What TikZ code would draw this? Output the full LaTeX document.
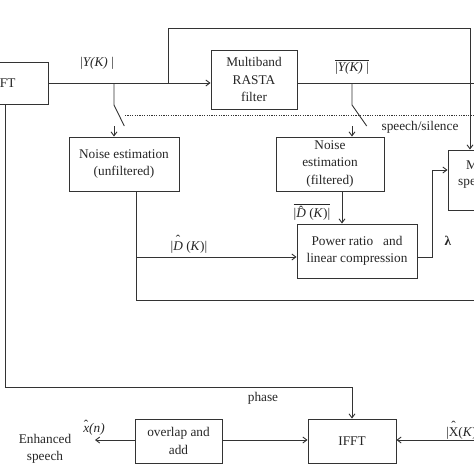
\documentclass[tikz,border=0pt]{standalone}
\usepackage{fontspec}
\setmainfont{Liberation Serif}
\usetikzlibrary{arrows.meta}
\newcommand\hatover[3][5pt]{\leavevmode\rlap{\hspace{#2}\raisebox{#1}{ˆ}}#3}
\begin{document}
\begin{tikzpicture}[x=1pt,y=-1pt,
  every node/.style={font=\fontsize{13.3}{17.5}\selectfont, text=black!85},
  blk/.style={draw=black!80, line width=0.9pt, align=center, inner sep=0pt, fill=white},
  ln/.style={draw=black!80, line width=0.9pt},
  arr/.style={ln, -{Straight Barb[length=4pt,width=6pt]}},
  lbl/.style={inner sep=0pt}]
\useasboundingbox (0,0) rectangle (474,474);
\clip (0,0) rectangle (474,474);
% blocks
\node[blk, minimum width=88pt, minimum height=42pt] (fft) at (4,83) {FFT};
\node[blk, minimum width=86pt, minimum height=59pt] (mb) at (254,79.5) {Multiband\\RASTA\\filter};
\node[blk, minimum width=110pt, minimum height=54pt] (nu) at (124,164) {Noise estimation\\(unfiltered)};
\node[blk, minimum width=108pt, minimum height=54pt] (nf) at (330,164) {Noise\\estimation\\(filtered)};
\node[blk, minimum width=120pt, minimum height=54pt] (pr) at (357,251) {Power ratio \ \ and\\linear compression};
\node[blk, minimum width=82pt, minimum height=60pt] (rb) at (489,180) {};
\node[lbl, anchor=base west] (rbt1) at (466,169) {M};
\node[lbl, anchor=base west] (rbt2) at (458,185) {spe};
\node[blk, minimum width=87pt, minimum height=44pt] (ola) at (178.5,441) {overlap and\\add};
\node[blk, minimum width=88pt, minimum height=44pt] (ifft) at (352,441) {IFFT};
% coordinates
\coordinate (j1) at (168,83);
\coordinate (topR) at (470,28);
\coordinate (e1) at (474,83);
\coordinate (s1) at (114,83);
\coordinate (s1b) at (114,105);
\coordinate (s1c) at (124.3,126);
\coordinate (s1d) at (114,126);
\coordinate (s2) at (352,83);
\coordinate (s2b) at (352,105);
\coordinate (s2c) at (366.7,126);
\coordinate (s2d) at (352,126);
\coordinate (d1) at (125,115.7);
\coordinate (d2) at (474,115.7);
\coordinate (nuo) at (136,191);
\coordinate (nub) at (136,300);
\coordinate (e2) at (474,300);
\coordinate (nubr) at (136,257);
\coordinate (nfo) at (342,191);
\coordinate (prx) at (432,257);
\coordinate (ph0) at (5,104);
\coordinate (ph1) at (5,387);
\coordinate (ph2) at (352,387);
\coordinate (outx) at (95,440);
\coordinate (e3) at (474,440);
% connectors
\draw[arr] (fft.east |- j1) -- (mb.west |- j1);
\draw[arr] (j1) |- (topR) -- (topR |- rb.north);
\draw[ln] (mb.east |- e1) -- (e1);
\draw[ln] (s1) -- (s1b) -- (s1c);
\draw[arr] (s1d) -- (s1d |- nu.north);
\draw[ln] (s2) -- (s2b) -- (s2c);
\draw[arr] (s2d) -- (s2d |- nf.north);
\draw[ln, dash pattern=on 1.2pt off 1.2pt, line width=0.8pt] (d1) -- (d2);
\draw[ln] (nuo) -- (nub) -- (e2);
\draw[arr] (nubr) -- (nubr -| pr.west);
\draw[arr] (nfo) -- (nfo |- pr.north);
\draw[arr] (pr.east |- prx) -- (prx) |- (rb.west |- 0,170);
\draw[arr] (ph0) -- (ph1) -- (ph2) -- (ph2 |- ifft.north);
\draw[arr] (ola.east |- e3) -- (ifft.west |- e3);
\draw[arr] (ola.west |- outx) -- (outx);
\draw[arr] (e3) -- (ifft.east |- e3);
% labels
\node[lbl] (ly) at (97,63) {|\textit{Y(K)} |};
\node[lbl] (lyb) at (352,67) {$\overline{\hbox{|\textit{Y(K)} |}}$};
\node[lbl] (ss) at (420,127) {speech/silence};
\node[lbl] (ld) at (189,244) {|\hatover[6pt]{2.5pt}{\textit{D}} (\textit{K})|};
\node[lbl] (ldb) at (312,212) {$\overline{\hbox{|\hatover[2pt]{2.5pt}{\textit{D}} (\textit{K})|}}$};
\node[lbl] (lam) at (448,241) {\textbf{λ}};
\node[lbl] (ph) at (263,398) {phase};
\node[lbl] (xn) at (94,428) {\hatover[3pt]{0.5pt}{\textit{x}}\textit{(n)}};
\node[lbl, anchor=west] (xk) at (446,430) {|\hatover[6pt]{2.5pt}{X}(\textit{K})|};
\node[lbl, align=center] (enh) at (45,449) {Enhanced\\speech};
\end{tikzpicture}
\end{document}
